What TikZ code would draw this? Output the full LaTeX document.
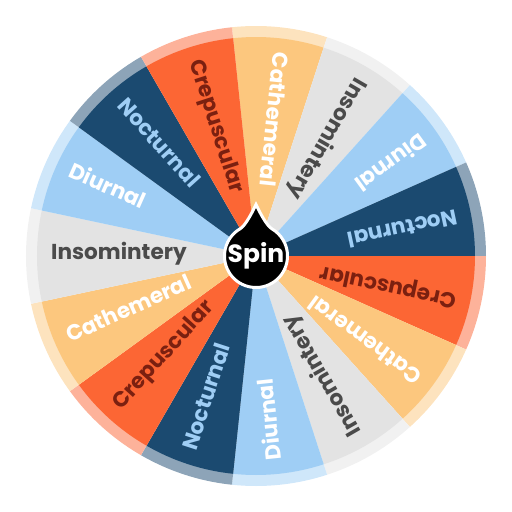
\documentclass[tikz,border=0pt]{standalone}
\usepackage{fontspec}
\setmainfont{Poppins}
\usetikzlibrary{calc}
\definecolor{cath}{HTML}{FCC77E}
\definecolor{inso}{HTML}{E3E3E3}
\definecolor{diur}{HTML}{9FCEF5}
\definecolor{noct}{HTML}{1B4A70}
\definecolor{crep}{HTML}{FC6634}
\definecolor{insotext}{HTML}{4A4A4A}
\definecolor{creptext}{HTML}{7B2010}
\tikzset{
  lbl/.style={anchor=base west, inner sep=0pt, font=\bfseries\fontsize{21.6}{21.6}\selectfont},
  spinlbl/.style={inner sep=0pt, text=white, font=\bfseries\fontsize{25}{25}\selectfont}
}
\begin{document}
\begin{tikzpicture}[x=1pt,y=1pt]
\useasboundingbox (-256,-256) rectangle (256,256);
\foreach \k in {0,1,2}{
  \foreach \j/\txt/\fc/\tc in {0/Cathemeral/cath/white, 1/Insomintery/inso/insotext, 2/Diurnal/diur/white, 3/Nocturnal/noct/diur, 4/Crepuscular/crep/creptext}{
    \pgfmathsetmacro{\a}{84-24*(5*\k+\j)}
    \fill[\fc!50!white] (0,0) -- (\a-12:230) arc[start angle=\a-12, end angle=\a+12, radius=230] -- cycle;
    \fill[\fc] (0,0) -- (\a-12:219) arc[start angle=\a-12, end angle=\a+12, radius=219] -- cycle;
    \node[lbl, text=\tc, rotate=\a+180] (t\k\j) at ($(\a:205)+(\a+90:3.8)$) {\txt};
  }
}
\draw[white, line width=3pt, fill=black]
  (0,51.5) .. controls (-3.4,44.3) and (-10.6,30.3) .. (120:31.5)
  arc[start angle=120, end angle=420, radius=31.5]
  .. controls (10.6,30.3) and (3.4,44.3) .. (0,51.5) -- cycle;
\node[spinlbl] (spin) at (0,0) {Spin};
\end{tikzpicture}
\end{document}
